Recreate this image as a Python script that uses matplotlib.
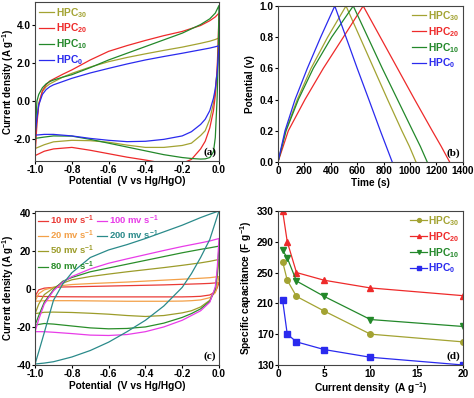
import numpy as np
import matplotlib
matplotlib.use("Agg")
import matplotlib.pyplot as plt
from matplotlib.lines import Line2D

plt.rcParams["font.family"] = ["Liberation Sans", "DejaVu Sans"]
plt.rcParams["font.weight"] = "bold"
plt.rcParams["axes.labelweight"] = "bold"
plt.rcParams["axes.unicode_minus"] = False
plt.rcParams["mathtext.fontset"] = "custom"
plt.rcParams["mathtext.rm"] = "Liberation Sans:bold"
plt.rcParams["mathtext.bf"] = "Liberation Sans:bold"
plt.rcParams["mathtext.default"] = "bf"

OLIVE = "#A3A332"
RED = "#EE2A2A"
GREEN = "#23882A"
BLUE = "#2A2AEE"

samples = [r"HPC$_{30}$", r"HPC$_{20}$", r"HPC$_{10}$", r"HPC$_{0}$"]
sample_colors = [OLIVE, RED, GREEN, BLUE]

# ── (a) CV curves of the four samples ───────────────────────────────────────
cv_up_E = [-1.0, -0.99, -0.98, -0.96, -0.94, -0.92, -0.9, -0.85, -0.8, -0.7,
           -0.6, -0.5, -0.4, -0.3, -0.2, -0.1, -0.05, -0.02, 0.0]
cv_dn_E = [0.0, -0.005, -0.01, -0.02, -0.03, -0.05, -0.075, -0.1, -0.15, -0.2,
           -0.3, -0.4, -0.5, -0.6, -0.7, -0.8, -0.9, -0.95, -1.0]

hpc30_up = [-2.48, -1.0, -0.1, 0.5, 0.75, 0.9, 1.0, 1.25, 1.45, 1.78, 2.06, 2.28,
            2.47, 2.65, 2.82, 3.02, 3.13, 3.22, 3.3]
hpc30_dn = [3.3, 2.4, 1.6, 0.6, -0.1, -0.95, -1.55, -1.8, -2.2, -2.32, -2.42,
            -2.42, -2.3, -2.15, -2.07, -2.05, -2.13, -2.28, -2.48]
hpc20_up = [-2.85, -1.2, -0.2, 0.55, 0.85, 1.05, 1.15, 1.4, 1.63, 2.15, 2.6, 2.9,
            3.17, 3.42, 3.64, 3.95, 4.2, 4.4, 4.6]
hpc20_dn = [4.6, 3.0, 1.7, 0.3, -0.5, -1.4, -2.1, -2.5, -3.05, -3.25, -3.25,
            -3.08, -2.93, -2.75, -2.57, -2.42, -2.5, -2.62, -2.85]
hpc10_up = [-1.95, 0.0, 0.35, 0.7, 0.9, 1.02, 1.1, 1.25, 1.38, 1.75, 2.15, 2.5,
            2.85, 3.2, 3.55, 4.0, 4.3, 4.6, 5.0]
hpc10_dn = [5.0, 2.0, 0.2, -1.9, -2.65, -2.95, -3.02, -3.03, -3.0, -2.95, -2.8,
            -2.6, -2.4, -2.2, -2.0, -1.83, -1.82, -1.88, -1.95]
hpc0_up = [-1.78, -0.9, -0.2, 0.35, 0.6, 0.75, 0.85, 1.02, 1.19, 1.47, 1.71, 1.94,
           2.15, 2.33, 2.5, 2.68, 2.77, 2.84, 2.89]
hpc0_dn = [2.89, 2.2, 1.5, 0.65, 0.15, -0.5, -0.95, -1.22, -1.6, -1.82, -2.0,
           -2.1, -2.12, -2.05, -1.95, -1.82, -1.74, -1.74, -1.78]

# ── (b) galvanostatic charge / discharge ────────────────────────────────────
gcd_charge_V = [0.0, 0.2, 0.4, 0.6, 0.8, 1.0]
gcd_dis_V = [1.0, 0.8, 0.6, 0.4, 0.2, 0.1, 0.0]
t30_ch = [0, 58, 146, 250, 376, 515]
t30_dis = [515, 620, 725, 830, 938, 995, 1045]
t20_ch = [0, 78, 204, 343, 495, 645]
t20_dis = [645, 775, 905, 1035, 1168, 1236, 1300]
t10_ch = [0, 61, 154, 267, 406, 570]
t10_dis = [570, 680, 790, 905, 1020, 1078, 1130]
t0_ch = [0, 53, 129, 222, 323, 430]
t0_dis = [430, 515, 600, 688, 775, 820, 865]

# ── (c) CV at different scan rates ──────────────────────────────────────────
sr_up_E = [-1.0, -0.98, -0.95, -0.9, -0.85, -0.8, -0.7, -0.6, -0.5, -0.4, -0.3,
           -0.2, -0.1, -0.05, 0.0]
sr_dn_E = [0.0, -0.01, -0.02, -0.05, -0.1, -0.15, -0.2, -0.3, -0.4, -0.5, -0.6,
           -0.7, -0.8, -0.9, -0.95, -1.0]
rate_labels = [r"10 mv s$^{-1}$", r"20 mv s$^{-1}$", r"50 mv s$^{-1}$",
               r"80 mv s$^{-1}$", r"100 mv s$^{-1}$", r"200 mv s$^{-1}$"]
rate_colors = ["#EA3A36", "#F3A048", "#9C9C2A", "#2A8E2A", "#E83CE8", "#2A8A8A"]

r10_up = [-3.8, -0.5, 0.4, 0.8, 1.0, 1.1, 1.3, 1.5, 1.7, 1.9, 2.1, 2.4, 2.7, 2.9, 3.3]
r10_dn = [3.3, 0.5, -1.5, -3.2, -3.9, -4.1, -4.2, -4.2, -4.2, -4.2, -4.2, -4.2,
          -4.15, -4.1, -4.0, -3.8]
r20_up = [-6.5, -2.5, -0.5, 0.8, 1.8, 2.3, 2.8, 3.2, 3.6, 4.1, 4.6, 5.1, 5.6, 5.9, 6.5]
r20_dn = [6.5, 1.5, -2.0, -4.6, -5.8, -6.2, -6.4, -6.5, -6.5, -6.5, -6.4, -6.3,
          -6.2, -6.2, -6.2, -6.5]
r50_up = [-13.0, -8.0, -3.0, 0.5, 3.0, 4.8, 6.5, 7.8, 9.0, 10.1, 11.2, 12.4, 13.7,
          14.5, 15.5]
r50_dn = [15.5, 6.0, 0.0, -6.0, -9.5, -11.5, -12.6, -14.0, -14.5, -14.0, -13.3,
          -12.8, -12.4, -12.2, -12.3, -13.0]
r80_up = [-19.0, -14.0, -7.0, -0.5, 4.0, 6.0, 9.0, 11.0, 13.0, 15.0, 17.0, 19.0,
          20.8, 21.6, 22.5]
r80_dn = [22.5, 8.0, 0.0, -6.5, -10.5, -13.0, -15.0, -18.0, -20.0, -20.8, -21.0,
          -20.5, -19.5, -18.5, -18.2, -19.0]
r100_up = [-22.5, -16.0, -8.0, -1.0, 3.5, 6.5, 10.5, 13.5, 15.8, 18.0, 20.2, 22.3,
           24.2, 25.2, 26.5]
r100_dn = [26.5, 10.0, 1.0, -7.0, -11.5, -14.0, -16.5, -20.0, -22.5, -24.0, -24.5,
           -24.3, -23.5, -22.8, -22.5, -22.5]
r200_up = [-39.5, -33.0, -23.0, -6.0, 2.5, 8.5, 16.5, 20.5, 23.3, 26.5, 30.0, 33.5,
           37.5, 39.3, 41.0]
r200_dn = [41.0, 38.0, 35.0, 26.0, 16.5, 8.0, 0.8, -9.0, -16.5, -22.5, -28.0,
           -32.4, -35.8, -38.3, -39.0, -39.5]

# ── (d) rate capability ─────────────────────────────────────────────────────
cur_density = [0.5, 1, 2, 5, 10, 20]
cap30 = [264, 240, 219, 200, 170, 160]
cap20 = [330, 290, 250, 240, 230, 220]
cap10 = [279, 269, 239, 219, 189, 180]
cap0 = [214, 170, 160, 150, 140, 130]

TICK = 7.3
LAB = 7.3
YLAB = 7.0
LEG = 7.4

fig = plt.figure(figsize=(4.74, 3.98), dpi=100)
fig.patch.set_facecolor("white")

ax_a = fig.add_axes([0.074, 0.596, 0.388, 0.400])
ax_b = fig.add_axes([0.5865, 0.593, 0.390, 0.392])
ax_c = fig.add_axes([0.074, 0.083, 0.388, 0.387])
ax_d = fig.add_axes([0.5865, 0.083, 0.390, 0.387])


def style(ax, tag, ylab_x):
    for s in ax.spines.values():
        s.set_linewidth(0.8)
        s.set_color("#444444")
    ax.tick_params(direction="out", length=2.2, width=0.8, labelsize=TICK, pad=0.8)
    for t in ax.get_xticklabels() + ax.get_yticklabels():
        t.set_fontweight("bold")
    ax.yaxis.set_label_coords(ylab_x, 0.5)
    ax.text(0.985, 0.025, tag, transform=ax.transAxes, ha="right", va="bottom",
            fontsize=8, fontweight="bold", family="Liberation Serif")


def color_legend(leg, colors):
    for txt, c in zip(leg.get_texts(), colors):
        txt.set_color(c)
        txt.set_fontweight("bold")


# panel a
for up, dn, c, lab in zip([hpc30_up, hpc20_up, hpc10_up, hpc0_up],
                          [hpc30_dn, hpc20_dn, hpc10_dn, hpc0_dn],
                          sample_colors, samples):
    ax_a.plot(cv_up_E + cv_dn_E, up + dn, color=c, lw=0.9, label=lab)
ax_a.set_xlim(-1.0, 0.0)
ax_a.set_ylim(-3.12, 5.2)
ax_a.set_xticks([-1.0, -0.8, -0.6, -0.4, -0.2, 0.0])
ax_a.set_yticks([-2.0, 0.0, 2.0, 4.0])
ax_a.xaxis.set_major_formatter(matplotlib.ticker.FormatStrFormatter("%.1f"))
ax_a.yaxis.set_major_formatter(matplotlib.ticker.FormatStrFormatter("%.1f"))
ax_a.set_xlabel("Potential  (V vs Hg/HgO)", fontsize=LAB, labelpad=1)
ax_a.set_ylabel(r"Current density (A g$^{-1}$)", fontsize=YLAB)
leg = ax_a.legend(loc="upper left", frameon=False, fontsize=LEG, handlelength=1.4,
                  handletextpad=0.2, labelspacing=0.2, borderaxespad=0.2,
                  borderpad=0.2)
color_legend(leg, sample_colors)
style(ax_a, "(a)", -0.106)

# panel b
for ch, dis, c, lab in zip([t30_ch, t20_ch, t10_ch, t0_ch],
                           [t30_dis, t20_dis, t10_dis, t0_dis],
                           sample_colors, samples):
    ax_b.plot(ch + dis, gcd_charge_V + gcd_dis_V, color=c, lw=0.9, label=lab)
ax_b.set_xlim(0, 1400)
ax_b.set_ylim(0, 1.0)
ax_b.set_xticks(range(0, 1401, 200))
ax_b.set_yticks([0.0, 0.2, 0.4, 0.6, 0.8, 1.0])
ax_b.yaxis.set_major_formatter(matplotlib.ticker.FormatStrFormatter("%.1f"))
ax_b.set_xlabel("Time (s)", fontsize=LAB, labelpad=1)
ax_b.set_ylabel("Potential (v)", fontsize=LAB)
leg = ax_b.legend(loc="upper right", frameon=False, fontsize=LEG, handlelength=1.4,
                  handletextpad=0.2, labelspacing=0.2, borderaxespad=0.15,
                  borderpad=0.15)
color_legend(leg, sample_colors)
style(ax_b, "(b)", -0.124)

# panel c
handles = []
for up, dn, c, lab in zip([r10_up, r20_up, r50_up, r80_up, r100_up, r200_up],
                          [r10_dn, r20_dn, r50_dn, r80_dn, r100_dn, r200_dn],
                          rate_colors, rate_labels):
    h, = ax_c.plot(sr_up_E + sr_dn_E, up + dn, color=c, lw=0.9, label=lab)
    handles.append(h)
blank = Line2D([], [], alpha=0)
ax_c.set_xlim(-1.0, 0.0)
ax_c.set_ylim(-40, 41)
ax_c.set_xticks([-1.0, -0.8, -0.6, -0.4, -0.2, 0.0])
ax_c.set_yticks([-40, -20, 0, 20, 40])
ax_c.xaxis.set_major_formatter(matplotlib.ticker.FormatStrFormatter("%.1f"))
ax_c.set_xlabel("Potential  (V vs Hg/HgO)", fontsize=LAB, labelpad=1)
ax_c.set_ylabel(r"Current density (A g$^{-1}$)", fontsize=YLAB)
leg = ax_c.legend(handles + [blank, blank], rate_labels + [" ", " "],
                  loc="upper left", frameon=False, fontsize=6.8, ncol=2,
                  handlelength=1.1, handletextpad=0.2, labelspacing=0.2,
                  columnspacing=0.25, borderaxespad=0.15, borderpad=0.15)
color_legend(leg, rate_colors)
style(ax_c, "(c)", -0.106)

# panel d
markers = ["o", "^", "v", "s"]
for cap, c, m, lab in zip([cap30, cap20, cap10, cap0], sample_colors, markers,
                          samples):
    ax_d.plot(cur_density, cap, color=c, lw=0.9, marker=m, markersize=4,
              label=lab)
ax_d.set_xlim(0, 20)
ax_d.set_ylim(130, 330)
ax_d.set_xticks([0, 5, 10, 15, 20])
ax_d.set_yticks([130, 170, 210, 250, 290, 330])
ax_d.set_xlabel(r"Current density  (A g$^{-1}$)", fontsize=LAB, labelpad=1)
ax_d.set_ylabel(r"Specific capacitance (F g$^{-1}$)", fontsize=LAB)
leg = ax_d.legend(loc="upper right", frameon=False, fontsize=LEG, handlelength=1.7,
                  handletextpad=0.1, labelspacing=0.2, borderaxespad=0.15,
                  borderpad=0.15, markerscale=0.7)
color_legend(leg, sample_colors)
style(ax_d, "(d)", -0.132)

fig.savefig("out.png", dpi=100, facecolor="white")
